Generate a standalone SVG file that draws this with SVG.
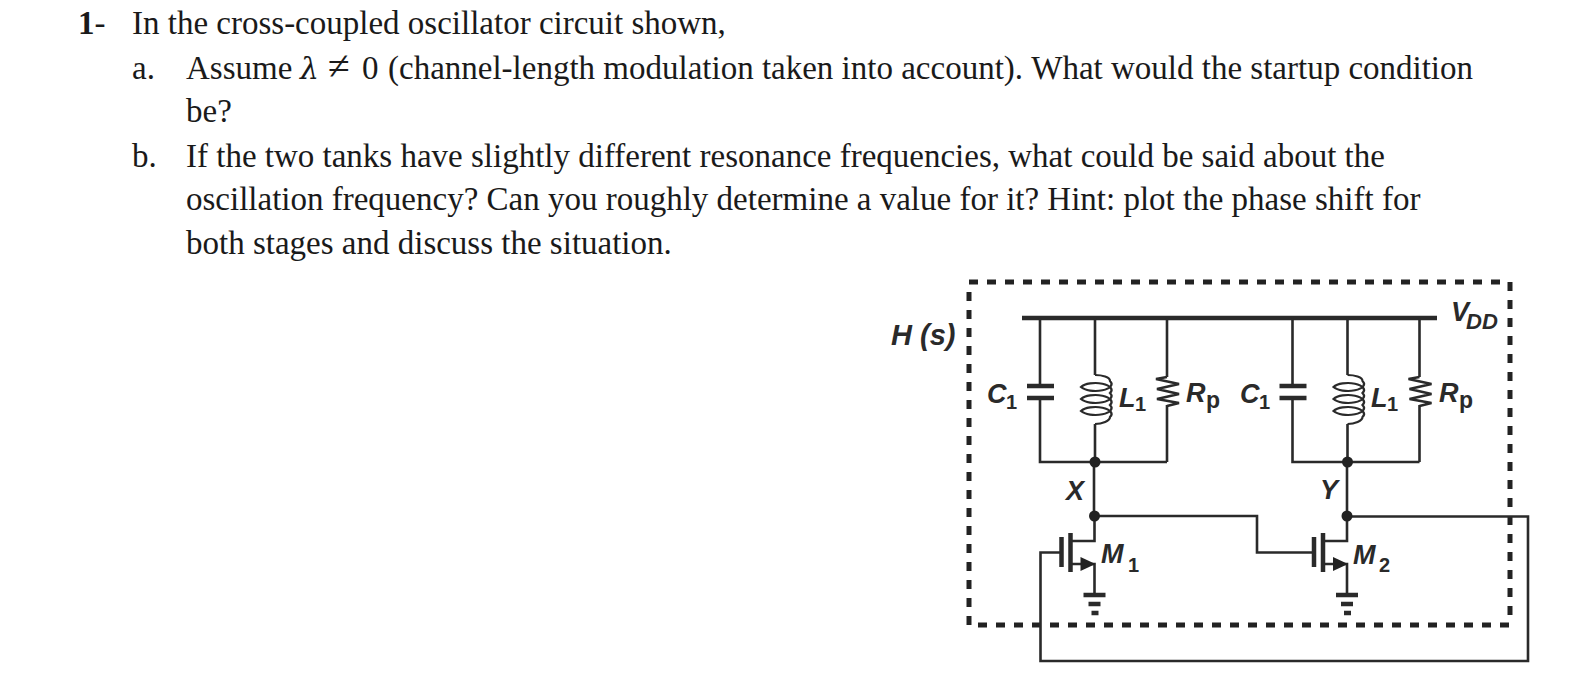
<svg xmlns="http://www.w3.org/2000/svg" xmlns:xlink="http://www.w3.org/1999/xlink" width="1570" height="697" viewBox="0 0 1570 697">
<style>
.t{font-family:"Liberation Serif",serif;font-size:33px;fill:#1a1a1a}
.b{font-weight:bold}
.l{font-family:"Liberation Sans",Arial,sans-serif;font-style:italic;font-weight:bold;font-size:27px;fill:#2a2a2a}
.s{font-family:"Liberation Sans",Arial,sans-serif;font-weight:bold;font-size:20px;fill:#2a2a2a}
.w{fill:none;stroke:#2a2a2a;stroke-width:2.6}
.c{fill:none;stroke:#2a2a2a;stroke-width:2.2}
.d{fill:none;stroke:#222;stroke-width:5;stroke-dasharray:9 9}
.p{fill:none;stroke:#2a2a2a;stroke-width:4.5}
.n{fill:#222}
</style>
<defs>
<g id="tank">
<path class="w" d="M0 318V386M0 398V462H127M55 318V375M55 424V462M127 318V377M127 405V462"/>
<path class="p" d="M-13 386H14M-13 398H14"/>
<path class="c" d="M55 375C62 375 70 377 70 381A15 6.5 0 0 1 41 387A15 6.5 0 0 1 70 393A15 6.5 0 0 1 41 399A15 6.5 0 0 1 70 405A15 6.5 0 0 1 41 411A15 6.5 0 0 1 70 417C70 421 62 424 55 424"/>
<path class="w" d="M127 377L116 379L139 384L117 389L139 394L117 399L139 403L127 406"/>
<circle class="n" cx="55" cy="462" r="5.5"/>
</g>
<g id="fet">
<path class="w" d="M0 516V541H-24M-24 564H0V595"/>
<path class="p" d="M-24 533V572M-33 537V567"/>
<path class="n" d="M-14 557L1 564L-14 571Z"/>
<path class="p" d="M-11 595H11M-6 604H6M-3 613H4"/>
<circle class="n" cx="0" cy="516" r="5.5"/>
</g>
</defs>
<g id="problem-text">
<text class="t b" x="78" y="34">1<tspan font-weight="normal">-</tspan></text>
<text class="t" x="132" y="34">In the cross-coupled oscillator circuit shown,</text>
<text class="t" x="132" y="79">a.</text>
<text class="t" x="186" y="79">Assume <tspan x="300" font-family="DejaVu Serif" font-style="italic" font-size="30">λ</tspan><tspan x="328" font-size="40">≠</tspan><tspan x="362">0</tspan><tspan x="388">(channel-length modulation taken into account). What would the startup condition</tspan></text>
<text class="t" x="186" y="122">be?</text>
<text class="t" x="132" y="167">b.</text>
<text class="t" x="186" y="167">If the two tanks have slightly different resonance frequencies, what could be said about the</text>
<text class="t" x="186" y="210">oscillation frequency? Can you roughly determine a value for it? Hint: plot the phase shift for</text>
<text class="t" x="186" y="254">both stages and discuss the situation.</text>
</g>
<g id="boundary">
<path class="d" d="M969 282H1501"/>
<path class="d" d="M969 292V625"/>
<path class="d" d="M1510 282V618"/>
<path class="d" d="M978 625H1510"/>
</g>
<g id="connectors">
<path class="p" d="M1022 318H1437"/>
<path class="w" d="M1094 516H1257V552.5H1314"/>
<path class="w" d="M1347 516.5H1528V661H1040.5V552.5H1061"/>
<path class="w" d="M1094 462V516M1347 462V516"/>
</g>
<g id="tank-left"><use xlink:href="#tank" href="#tank" x="1040"/></g>
<g id="tank-right"><use xlink:href="#tank" href="#tank" x="1292.5"/></g>
<g id="m1"><use xlink:href="#fet" href="#fet" x="1094.5"/></g>
<g id="m2"><use xlink:href="#fet" href="#fet" x="1347"/></g>
<g id="labels">
<text class="l" x="891" y="345" style="font-size:29px">H (s)</text>
<text class="l" x="987" y="403">C</text><text class="s" x="1006" y="409">1</text>
<text class="l" x="1119" y="407">L</text><text class="s" x="1135" y="411">1</text>
<text class="l" x="1186" y="402">R</text><text class="s" x="1206" y="408" style="font-size:23px">p</text>
<text class="l" x="1240" y="403">C</text><text class="s" x="1259" y="409">1</text>
<text class="l" x="1371" y="407">L</text><text class="s" x="1387" y="411">1</text>
<text class="l" x="1439" y="402">R</text><text class="s" x="1459" y="408" style="font-size:23px">p</text>
<text class="l" x="1451" y="321">V</text><text class="l" x="1466" y="329" style="font-size:22px">DD</text>
<text class="l" x="1066" y="500">X</text>
<text class="l" x="1320" y="499">Y</text>
<text class="l" x="1101" y="563">M</text><text class="s" x="1128" y="572">1</text>
<text class="l" x="1353" y="564">M</text><text class="s" x="1379" y="572">2</text>
</g>
</svg>
